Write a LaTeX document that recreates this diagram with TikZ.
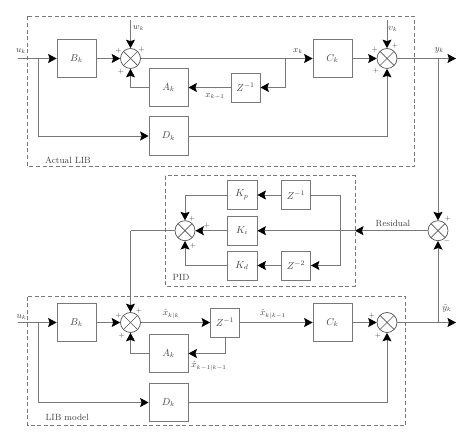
\documentclass[tikz,border=0pt]{standalone}
\usepackage{amsmath}
\usetikzlibrary{arrows.meta}

\tikzset{
    blockbox/.style={draw=linegray, line width=0.8pt, text=textgray, inner sep=0pt},
    bigbox/.style={blockbox, minimum width=39pt, minimum height=38.5pt},
    smallbox/.style={blockbox, minimum width=29pt, minimum height=29pt},
    sumnode/.style={circle, draw=linegray!70!black, line width=0.7pt, minimum size=20pt, inner sep=0pt,
        path picture={
            \draw[linegray!70!black, line width=0.7pt] (path picture bounding box.north west) -- (path picture bounding box.south east);
            \draw[linegray!70!black, line width=0.7pt] (path picture bounding box.north east) -- (path picture bounding box.south west);
        }},
    wire/.style={draw=linegray, line width=0.9pt},
    arrowwire/.style={wire, -{Stealth[length=8.5pt, width=9pt, inset=1.5pt, color=black]}},
    dashbox/.style={draw=linegray, line width=0.8pt, dash pattern=on 4pt off 2.6pt},
    lab/.style={text=textgray, inner sep=0pt, font=\small},
    plus/.style={text=textgray, inner sep=0pt, font=\scriptsize}
}
\definecolor{linegray}{gray}{0.47}
\definecolor{textgray}{gray}{0.25}

\begin{document}
\begin{tikzpicture}[x=1pt, y=-1pt]
    \useasboundingbox (0,0) rectangle (474,443);

    % Dashed frames
    \draw[dashbox] (27.5,16.5) rectangle (414.5,166.5);
    \draw[dashbox] (165,175.7) rectangle (355,286);
    \draw[dashbox] (27.5,296.7) rectangle (405.7,425.7);

    % Actual LIB blocks
    \node[bigbox] (bt) at (76.5,58.5) {$B_k$};
    \node[bigbox] (at) at (168.5,87.5) {$A_k$};
    \node[bigbox] (dt) at (168.5,136) {$D_k$};
    \node[bigbox] (ct) at (332.5,58.5) {$C_k$};
    \node[smallbox] (zt) at (245.5,87.5) {$Z^{-1}$};
    \node[sumnode] (sa) at (130.5,58.5) {};
    \node[sumnode] (sb) at (387,58.5) {};

    % PID blocks
    \node[smallbox, minimum width=30pt] (kp) at (242,195) {$K_p$};
    \node[smallbox, minimum width=30pt] (ki) at (242,230.7) {$K_i$};
    \node[smallbox, minimum width=30pt] (kd) at (242,265.5) {$K_d$};
    \node[smallbox] (zp) at (296,195) {$Z^{-1}$};
    \node[smallbox] (zd) at (296,265.5) {$Z^{-2}$};
    \node[sumnode] (sp) at (185,230.7) {};
    \node[sumnode] (sr) at (438,230.7) {};

    % LIB model blocks
    \node[bigbox] (bm) at (76.5,322.5) {$B_k$};
    \node[bigbox] (am) at (168.5,353.5) {$A_k$};
    \node[bigbox] (dm) at (168.5,402.5) {$D_k$};
    \node[bigbox] (cm) at (332.5,322.5) {$C_k$};
    \node[smallbox] (zm) at (225,322.5) {$Z^{-1}$};
    \node[sumnode] (sc) at (130.5,322.5) {};
    \node[sumnode] (sd) at (387,322.5) {};

    % Free ends and branch points
    \coordinate (ut) at (18,58.5);
    \coordinate (wt) at (130.5,20);
    \coordinate (vt) at (387,20);
    \coordinate (yt) at (456,58.5);
    \coordinate (um) at (18,322.5);
    \coordinate (ym) at (456,322.5);
    \coordinate (yjt) at (438,58.5);
    \coordinate (yjm) at (438,322.5);
    \coordinate (ujt) at (38,58.5);
    \coordinate (ujm) at (38,322.5);
    \coordinate (xj) at (285,58.5);
    \coordinate (rj) at (340,230.7);
    \coordinate (rin) at (355,230.7);
    \coordinate (pj) at (130.5,230.7);

    % Actual LIB connectors
    \draw[arrowwire] (ut) -- (bt);
    \draw[arrowwire] (bt) -- (sa);
    \draw[arrowwire] (wt) -- (sa);
    \draw[arrowwire] (sa) -- (ct);
    \draw[arrowwire] (ct) -- (sb);
    \draw[arrowwire] (vt) -- (sb);
    \draw[arrowwire] (sb) -- (yt);
    \draw[arrowwire] (xj) |- (zt);
    \draw[arrowwire] (zt) -- (at);
    \draw[arrowwire] (at) -| (sa);
    \draw[arrowwire] (ujt) |- (dt);
    \draw[arrowwire] (dt) -| (sb);

    % PID connectors
    \draw[arrowwire] (yjt) -- (sr);
    \draw[arrowwire] (yjm) -- (sr);
    \draw[arrowwire] (sr) -- (rin);
    \draw[arrowwire] (rin) -- (ki);
    \draw[wire] (rj) |- (zp);
    \draw[arrowwire] (rj) |- (zd);
    \draw[arrowwire] (zp) -- (kp);
    \draw[arrowwire] (zd) -- (kd);
    \draw[arrowwire] (kp) -| (sp);
    \draw[arrowwire] (ki) -- (sp);
    \draw[arrowwire] (kd) -| (sp);
    \draw[wire] (sp) -- (pj);
    \draw[arrowwire] (pj) -- (sc);

    % LIB model connectors
    \draw[arrowwire] (um) -- (bm);
    \draw[arrowwire] (bm) -- (sc);
    \draw[arrowwire] (sc) -- (zm);
    \draw[arrowwire] (zm) -- (cm);
    \draw[arrowwire] (cm) -- (sd);
    \draw[arrowwire] (sd) -- (ym);
    \draw[arrowwire] (zm) |- (am);
    \draw[arrowwire] (am) -| (sc);
    \draw[arrowwire] (ujm) |- (dm);
    \draw[arrowwire] (dm) -| (sd);

    % Signal labels
    \node[lab] (lu1) at (21,51) {$u_k$};
    \node[lab] (lw) at (138.5,28) {$w_k$};
    \node[lab] (lv) at (393,29) {$v_k$};
    \node[lab] (lx) at (298,51) {$x_k$};
    \node[lab] (lxp) at (215,96.5) {$x_{k-1}$};
    \node[lab] (ly) at (439.5,50) {$y_k$};
    \node[lab] (lres) at (393,223) {Residual};
    \node[lab] (lu2) at (21.5,317) {$u_k$};
    \node[lab] (lxa) at (171,314) {$\hat{x}_{k|k}$};
    \node[lab] (lxb) at (273,314) {$\hat{x}_{k|k-1}$};
    \node[lab] (lxc) at (209,366) {$\hat{x}_{k-1|k-1}$};
    \node[lab] (lyh) at (447,308) {$\hat{y}_k$};

    % Frame titles
    \node[lab, anchor=west] (lact) at (45,160) {Actual LIB};
    \node[lab, anchor=west] (lpid) at (172.5,277.7) {PID};
    \node[lab, anchor=west] (lmod) at (45.5,417.7) {LIB model};

    % Signs at the summing points
    \node[plus] (p1) at (118.5,50.5) {$+$};
    \node[plus] (p2) at (141.5,50) {$+$};
    \node[plus] (p3) at (121,71.5) {$+$};
    \node[plus] (p4) at (375,50) {$+$};
    \node[plus] (p5) at (395,46) {$+$};
    \node[plus] (p6) at (376,71) {$+$};
    \node[plus] (p7) at (192,219) {$+$};
    \node[plus] (p8) at (207,226) {$+$};
    \node[plus] (p9) at (193,246) {$+$};
    \node[plus] (p10) at (448,219) {$+$};
    \node[plus] (p11) at (447,241) {$-$};
    \node[plus] (p12) at (118.5,315.5) {$+$};
    \node[plus] (p13) at (139,311) {$+$};
    \node[plus] (p14) at (121.5,335.5) {$+$};
    \node[plus] (p15) at (372,316) {$+$};
    \node[plus] (p16) at (378,336) {$+$};
\end{tikzpicture}
\end{document}
